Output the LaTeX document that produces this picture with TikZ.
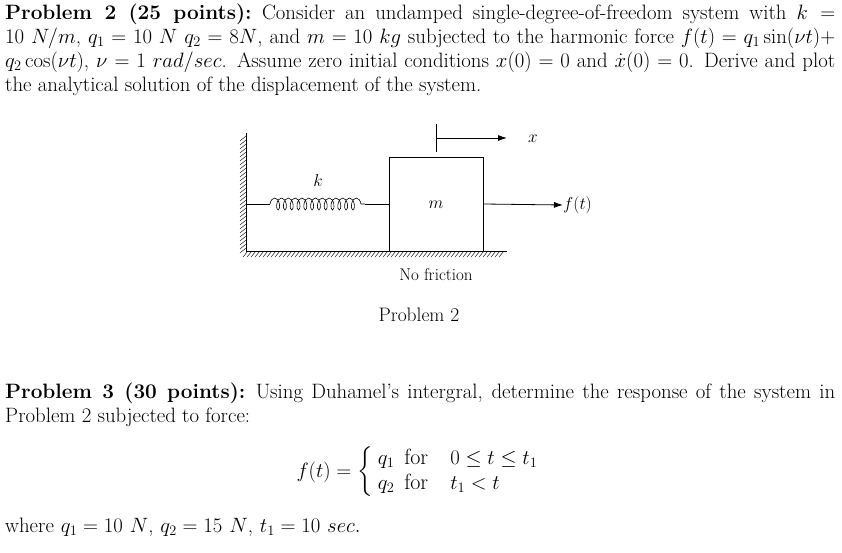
\documentclass[tikz,border=0pt]{standalone}
\usepackage{amsmath}
\usetikzlibrary{decorations.pathmorphing,arrows.meta}
\begin{document}
\begin{tikzpicture}[x=1pt,y=-1pt,
  txt/.style={anchor=north west,inner sep=0pt,text width=830pt,align=justify,font=\fontsize{20.8}{24}\selectfont},
  lbl/.style={inner sep=0pt,font=\fontsize{17}{18}\selectfont},
  ln/.style={line width=0.8pt},
  arr/.style={line width=0.8pt,-{Latex[length=9pt,width=6pt]}}]
\useasboundingbox (0,0) rectangle (842,553);
\node[txt] (p2) at (5,4) {\textbf{Problem 2 (25 points):}\enspace Consider an undamped single-degree-of-freedom system with $k=$\linebreak 10 $N/m$, $q_1=10$ $N$ $q_2=8N$, and $m=10$ $kg$ subjected to the harmonic force $f(t)=q_1\sin(\nu t)+$\linebreak $q_2\cos(\nu t)$, $\nu=1$ $rad/sec$. Assume zero initial conditions $x(0)=0$ and $\dot x(0)=0$. Derive and plot\linebreak the analytical solution of the displacement of the system.};
% wall and floor
\coordinate (wt) at (246,133); \coordinate (wb) at (246,251); \coordinate (fr) at (507,251);
\draw[ln] (wt) -- (wb) -- (fr);
\foreach \y in {136,140,...,250} \draw[line width=0.4pt] (246,\y) -- (240,\y+5);
\foreach \x in {248,252,...,506} \draw[line width=0.4pt] (\x,251) -- (\x-5,257);
\node[draw,ln,minimum width=94pt,minimum height=94pt,inner sep=0pt] (m) at (436,204) {};
\node[lbl] (ml) at (436,205) {$m$};
\coordinate (s0) at (246,204); \coordinate (s1) at (270,204); \coordinate (s2) at (365,204);
\draw[ln] (s0) -- (s1);
\draw[line width=0.6pt,decorate,decoration={coil,aspect=0.5,segment length=6.8pt,amplitude=6pt}] (s1) -- (s2);
\draw[ln] (s2) -- (m.west);
\node[lbl] (k) at (318,181) {$k$};
\node[lbl,anchor=west] (f) at (563,205) {$f(t)$};
\draw[arr] (m.east) -- (f.west);
\coordinate (xt) at (436,124); \coordinate (xb) at (436,152);
\draw[ln] (xt) -- (xb);
\node[lbl] (xl) at (533,139) {$x$};
\draw[arr] (436,138) -- (507,138);
\node[lbl,font=\fontsize{17}{18}\selectfont] (nf) at (436,275) {No friction};
\node[lbl,font=\fontsize{19.5}{20}\selectfont] (cap) at (419,315) {Problem 2};
\node[txt] (p3) at (5,383) {\textbf{Problem 3 (30 points):}\enspace Using Duhamel's intergral, determine the response of the system in\linebreak Problem 2 subjected to force:};
\node[inner sep=0pt,font=\fontsize{22}{25}\selectfont] (eq) at (420,472) {$f(t)=\left\{\begin{array}{ll} q_1 & \text{for}\quad 0\le t\le t_1\\ q_2 & \text{for}\quad t_1<t\end{array}\right.$};
\node[txt,text width=500pt,align=left] (wh) at (5,518) {where $q_1=10$ $N$, $q_2=15$ $N$, $t_1=10$ $sec.$};
\end{tikzpicture}
\end{document}
